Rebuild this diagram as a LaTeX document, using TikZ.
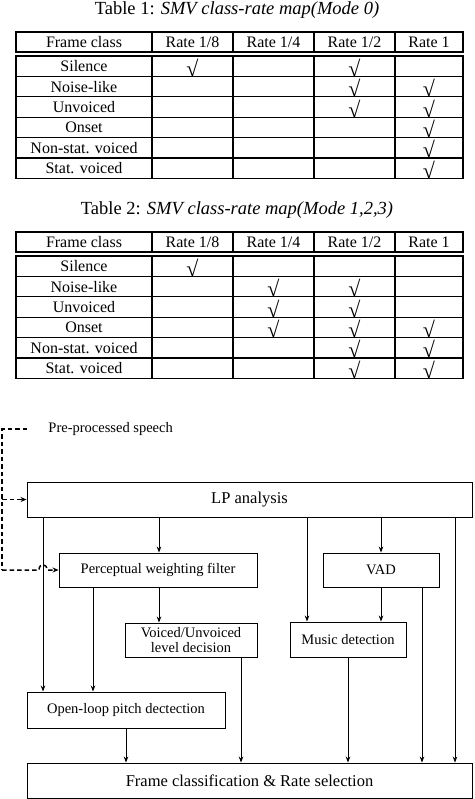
\documentclass[tikz,border=0pt]{standalone}
\usepackage{fontspec}
\setmainfont{Liberation Serif}
\usetikzlibrary{arrows.meta}

\NewDocumentCommand{\ratetable}{mmmm}{%
\begin{scope}[shift={(0,#1)}]%
\node[capt] (cap#2) at (237,-22) {Table #2: \textit{SMV class-rate map(Mode #3)}};%
\draw[tabline] (16,0) rectangle (463,20);%
\draw[tabline] (16,24) rectangle (463,146.4);%
\foreach \x in {152,233,314,395} {\draw[tabline] (\x,0) -- (\x,20) (\x,24) -- (\x,146.4);}%
\foreach \k in {1,...,5} {\draw[tabline] (16,24+20.4*\k) -- (463,24+20.4*\k);}%
\foreach \x/\t [count=\i] in {84/{Frame class},192.5/{Rate 1/8},273.5/{Rate 1/4},354.5/{Rate 1/2},429/{Rate 1}} {\node[cell] (h#2-\i) at (\x,10) {\t};}%
\foreach \t [count=\i] in {Silence,Noise-like,Unvoiced,Onset,Non-stat. voiced,Stat. voiced} {\node[cell] (r#2-\i) at (84,13.8+20.4*\i) {\t};}%
\foreach \c/\r in {#4} {%
\pgfmathsetmacro{\cx}{\c==4 ? 429 : 111.5+81*\c}%
\node[chk] (k#2-\c-\r) at (\cx,15.2+20.4*\r) {√};}%
\end{scope}%
}

\begin{document}
\begin{tikzpicture}[x=1pt,y=-1pt,
    tabline/.style={line width=1.3pt},
    capt/.style={font=\fontsize{18.5}{20}\selectfont},
    cell/.style={font=\fontsize{16}{18}\selectfont, inner sep=0pt},
    chk/.style={font=\fontsize{22}{22}\selectfont, inner sep=0pt},
    box/.style={draw, line width=0.9pt, align=center, inner sep=0pt,
        font=\fontsize{14.5}{15}\selectfont},
    bigbox/.style={box, minimum width=445pt, minimum height=35pt,
        font=\fontsize{16.5}{18}\selectfont},
    arr/.style={line width=0.8pt, -{Stealth[length=6pt,width=4.5pt]}},
    dasharr/.style={line width=1.5pt, dash pattern=on 4.5pt off 3pt,
        -{Stealth[length=6pt,width=5pt]}}]
    \useasboundingbox (0,0) rectangle (474,799);

    % Tables.
    \ratetable{32}{1}{0}{1/1,3/1,3/2,4/2,3/3,4/3,4/4,4/5,4/6}
    \ratetable{232}{2}{1,2,3}{1/1,2/2,3/2,2/3,3/3,2/4,3/4,4/4,3/5,4/5,3/6,4/6}

    % Blocks.
    \node[bigbox] (lp) at (249.5,499.5) {LP analysis};
    \node[box, minimum width=198pt, minimum height=34pt] (pwf) at (158,570) {Perceptual weighting filter};
    \node[box, minimum width=116pt, minimum height=34pt] (vad) at (381,570) {VAD};
    \node[box, minimum width=132pt, minimum height=34pt] (vuv) at (191,640) {Voiced/Unvoiced\\level decision};
    \node[box, minimum width=116pt, minimum height=35pt] (music) at (348,639.5) {Music detection};
    \node[box, minimum width=198pt, minimum height=36pt] (olp) at (126,710) {Open-loop pitch dectection};
    \node[bigbox] (fcr) at (249.5,780.5) {Frame classification \& Rate selection};

    % Input.
    \coordinate (src) at (27,429);
    \node[box, draw=none, anchor=west] (speech) at (48,429) {Pre-processed speech};
    \draw[dasharr, -] (src) -- (2,0 |- src) -- (2,0 |- pwf.west);
    \draw[dasharr] (2,0 |- lp.west) -- (lp.west);
    \draw[dasharr] (2,0 |- pwf.west) -- (39,0 |- pwf.west)
        .. controls (39,563) and (47,563) .. (47,0 |- pwf.west) -- (pwf.west);

    % From LP analysis.
    \draw[arr] (43,0 |- lp.south) -- (43,0 |- olp.north);
    \draw[arr] (159,0 |- lp.south) -- (159,0 |- pwf.north);
    \draw[arr] (307,0 |- lp.south) -- (307,0 |- music.north);
    \draw[arr] (381,0 |- lp.south) -- (381,0 |- vad.north);
    \draw[arr] (455,0 |- lp.south) -- (455,0 |- fcr.north);
    % Second stage.
    \draw[arr] (93,0 |- pwf.south) -- (93,0 |- olp.north);
    \draw[arr] (159,0 |- pwf.south) -- (159,0 |- vuv.north);
    \draw[arr] (381,0 |- vad.south) -- (381,0 |- music.north);
    \draw[arr] (422,0 |- vad.south) -- (422,0 |- fcr.north);
    % Into classification.
    \draw[arr] (126,0 |- olp.south) -- (126,0 |- fcr.north);
    \draw[arr] (241,0 |- vuv.south) -- (241,0 |- fcr.north);
    \draw[arr] (348,0 |- music.south) -- (348,0 |- fcr.north);
\end{tikzpicture}
\end{document}
